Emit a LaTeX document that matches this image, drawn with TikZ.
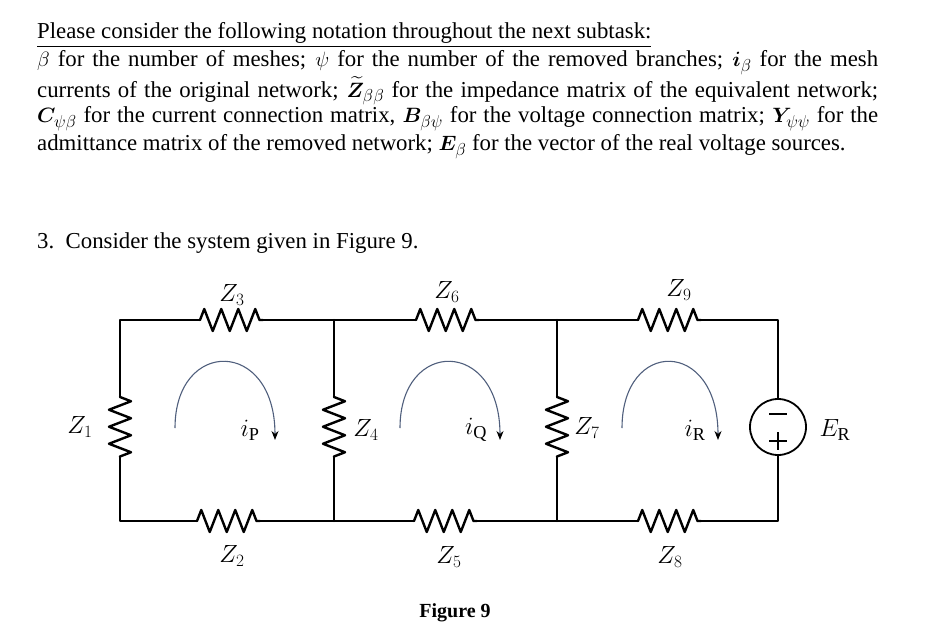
\documentclass[tikz,border=0pt]{standalone}
\usepackage{fontspec}
\usepackage{amsmath,bm}
\setmainfont{Liberation Serif}
\usetikzlibrary{decorations.pathmorphing,arrows.meta}
\begin{document}
\begin{tikzpicture}[x=1pt,y=-1pt,
  txt/.style={anchor=west,inner sep=0pt,font=\fontsize{22.8}{27}\selectfont},
  lbl/.style={inner sep=0pt,font=\fontsize{26}{30}\selectfont},
  wire/.style={line width=2.4pt,line cap=round,line join=round},
  res/.style={wire,decorate,decoration={zigzag,segment length=17pt,amplitude=11pt}},
  mesh/.style={line width=1.1pt,draw={rgb,255:red,80;green,95;blue,125},-{Stealth[length=9pt,width=7pt,black]}}]
\useasboundingbox (0,0) rectangle (947,642);
% header
\node[txt] (h1) at (37,35) {\underline{Please consider the following notation throughout the next subtask:}};
\node[txt] (h2) at (37,63) {\makebox[841pt][s]{$\beta$ for the number of meshes; $\psi$ for the number of the removed branches; $\bm{i}_\beta$ for the mesh}};
\node[txt] (h3) at (37,91) {\makebox[841pt][s]{currents of the original network; $\widetilde{\bm{Z}}_{\beta\beta}$ for the impedance matrix of the equivalent network;}};
\node[txt] (h4) at (37,119) {\makebox[841pt][s]{$\bm{C}_{\psi\beta}$ for the current connection matrix, $\bm{B}_{\beta\psi}$ for the voltage connection matrix; $\bm{Y}_{\psi\psi}$ for the}};
\node[txt] (h5) at (37,147) {admittance matrix of the removed network; $\bm{E}_\beta$ for the vector of the real voltage sources.};
\node[txt] (q3) at (37,243) {3.\ \ Consider the system given in Figure 9.};
% corners
\coordinate (tl) at (120,320); \coordinate (bl) at (120,521);
\coordinate (t1) at (334,320); \coordinate (b1) at (334,521);
\coordinate (t2) at (557,320); \coordinate (b2) at (557,521);
\coordinate (tr) at (778,320); \coordinate (br) at (778,521);
% resistor ends
\coordinate (r1a) at (120,397); \coordinate (r1b) at (120,457);
\coordinate (r4a) at (334,397); \coordinate (r4b) at (334,457);
\coordinate (r7a) at (557,397); \coordinate (r7b) at (557,457);
\coordinate (r3a) at (200,320); \coordinate (r3b) at (263,320);
\coordinate (r6a) at (416,320); \coordinate (r6b) at (479,320);
\coordinate (r9a) at (638,320); \coordinate (r9b) at (701,320);
\coordinate (r2a) at (197,521); \coordinate (r2b) at (260,521);
\coordinate (r5a) at (414,521); \coordinate (r5b) at (477,521);
\coordinate (r8a) at (638,521); \coordinate (r8b) at (701,521);
\node[circle,draw,line width=1.8pt,minimum size=56pt,inner sep=0pt] (src) at (778,427) {};
% wires
\draw[wire] (r1a) -- (tl) -- (r3a) (r3b) -- (r6a) (r6b) -- (r9a) (r9b) -- (tr) -- (src.north);
\draw[wire] (r1b) -- (bl) -- (r2a) (r2b) -- (r5a) (r5b) -- (r8a) (r8b) -- (br) -- (src.south);
\draw[wire] (t1) -- (r4a) (r4b) -- (b1);
\draw[wire] (t2) -- (r7a) (r7b) -- (b2);
% resistors
\foreach \a/\b in {r1a/r1b,r4a/r4b,r7a/r7b,r3a/r3b,r6a/r6b,r9a/r9b,r2a/r2b,r5a/r5b,r8a/r8b}
  \draw[res] (\a) -- (\b);
% source signs
\draw[line width=2pt] ([xshift=-9pt,yshift=13pt]src.center) -- ([xshift=9pt,yshift=13pt]src.center);
\draw[line width=2pt] ([xshift=-9pt,yshift=-14pt]src.center) -- ([xshift=9pt,yshift=-14pt]src.center)
  ([yshift=-5pt]src.center) -- ([yshift=-23pt]src.center);
% labels
\node[lbl] (z1) at (80,427) {$Z_1$};
\node[lbl] (z3) at (232,295) {$Z_3$};
\node[lbl] (z6) at (447,292) {$Z_6$};
\node[lbl] (z9) at (679,290) {$Z_9$};
\node[lbl] (z4) at (366,430) {$Z_4$};
\node[lbl] (z7) at (587,428) {$Z_7$};
\node[lbl] (z2) at (232,556) {$Z_2$};
\node[lbl] (z5) at (449,557) {$Z_5$};
\node[lbl] (z8) at (670,557) {$Z_8$};
\node[lbl] (er) at (835,430) {$E_{\mathrm{R}}$};
\node[lbl] (ip) at (250,430) {$i_{\mathrm{P}}$};
\node[lbl] (iq) at (476,430) {$i_{\mathrm{Q}}$};
\node[lbl] (ir) at (695,430) {$i_{\mathrm{R}}$};
% mesh arrows
\draw[mesh] (175,428) .. controls (175,338) and (275,338) .. (275,440);
\draw[mesh] (400,428) .. controls (400,338) and (500,338) .. (500,440);
\draw[mesh] (622,428) .. controls (622,338) and (718,338) .. (718,440);
\node[lbl,font=\bfseries\fontsize{20}{24}\selectfont] (fig) at (455,613) {Figure 9};
\end{tikzpicture}
\end{document}
